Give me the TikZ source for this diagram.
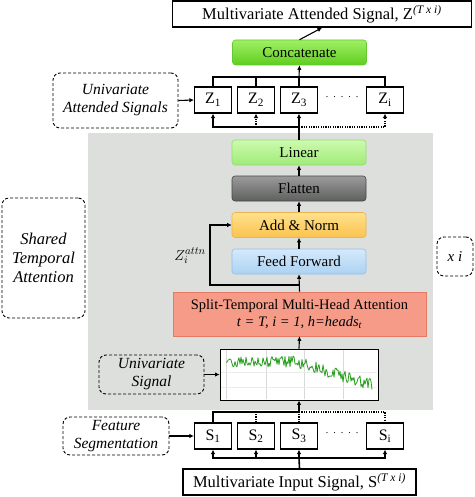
\documentclass[tikz,border=0pt]{standalone}
\usepackage{fontspec}
\setmainfont{Liberation Serif}
\usetikzlibrary{arrows.meta}

\definecolor{bggray}{RGB}{221,223,221}
\definecolor{sigGreen}{RGB}{40,160,30}

\begin{document}
\begin{tikzpicture}[x=1pt,y=-1pt,
		conn/.style={line width=1.1pt},
		arr/.style={conn, -{Latex[length=4.5pt,width=4.5pt]}},
		dot/.style={conn, dash pattern=on 1.2pt off 1.2pt},
		sig/.style={draw, line width=1.2pt, fill=white, minimum width=37pt, minimum height=26pt, inner sep=0pt, font=\fontsize{16}{18}\selectfont},
		bigbox/.style={draw, line width=1.6pt, fill=white, minimum height=26pt, inner sep=0pt, font=\fontsize{16.5}{18}\selectfont},
		layer/.style={rounded corners=3pt, line width=0.6pt, minimum width=134pt, minimum height=25pt, inner sep=0pt, align=center, font=\fontsize{15}{17}\selectfont},
		note/.style={draw, dash pattern=on 3pt off 2pt, line width=0.9pt, rounded corners=7pt, align=center, inner sep=0pt, font=\itshape\fontsize{15.5}{18}\selectfont}]
		\useasboundingbox (0,0) rectangle (474,497);
		% shared block background
		\fill[bggray] (88,133) rectangle (433,410);
		% output and concatenation
		\node[bigbox, minimum width=299pt] (output) at (322,14) {Multivariate Attended Signal, Z\textsuperscript{\itshape (T x i)}};
		\node[layer, draw={rgb,255:red,100;green,200;blue,50}, top color={rgb,255:red,160;green,240;blue,100}, bottom color={rgb,255:red,95;green,205;blue,30}] (concat) at (299.5,52.5) {Concatenate};
		% attended signals Z
		\foreach \n/\x in {1/213,2/256,3/299}
		{
			\node[sig] (z\n) at (\x,100) {Z\textsubscript{\n}};
		}
		\node[sig] (zi) at (385,100) {Z\textsubscript{i}};
		\node (zdots) at (342,97) {.\ \ .\ \ .\ \ .\ \ .};
		% transformer layers
		\node[layer, draw={rgb,255:red,150;green,220;blue,110}, top color={rgb,255:red,205;green,250;blue,175}, bottom color={rgb,255:red,160;green,235;blue,120}] (linear) at (299,152.5) {Linear};
		\node[layer, draw={rgb,255:red,70;green,70;blue,70}, top color={rgb,255:red,155;green,155;blue,155}, bottom color={rgb,255:red,95;green,95;blue,95}] (flatten) at (299,188.5) {Flatten};
		\node[layer, draw={rgb,255:red,235;green,180;blue,80}, top color={rgb,255:red,255;green,225;blue,140}, bottom color={rgb,255:red,250;green,195;blue,80}] (addnorm) at (299,225) {Add \& Norm};
		\node[layer, draw={rgb,255:red,150;green,190;blue,230}, top color={rgb,255:red,212;green,233;blue,252}, bottom color={rgb,255:red,172;green,210;blue,242}] (ff) at (299,261.5) {Feed Forward};
		\node[layer, rounded corners=0pt, draw={rgb,255:red,230;green,120;blue,100}, fill={rgb,255:red,245;green,155;blue,135}, minimum width=253pt, minimum height=44pt, font=\fontsize{14.5}{16.5}\selectfont] (split) at (299.5,314) {Split-Temporal Multi-Head Attention\\\textit{t = T, i = 1, h=heads\textsubscript{t}}};
		\node[anchor=east, inner sep=1pt, font=\fontsize{15}{17}\selectfont] (attn) at (207,256) {$Z_i^{attn}$};
		% univariate signal chart
		\node[draw, line width=0.9pt, fill=white, minimum width=158pt, minimum height=51pt] (chart) at (299,374.5) {};
		\foreach \gx in {226,266,304,343}
		{
			\draw[black!15] (\gx,350) -- (\gx,399);
		}
		\foreach \gy in {372,387}
		{
			\draw[black!8] (221,\gy) -- (377,\gy);
		}
		\pgfmathsetseed{11}
		\draw[sigGreen, line width=0.8pt, line join=round] (226,362) \foreach \k in {1,...,146} { -- ({226+\k},{362+max(0,\k-70)*0.3+6*rand}) };
		% segmented signals S
		\foreach \n/\x in {1/213,2/256,3/299}
		{
			\node[sig] (s\n) at (\x,436) {S\textsubscript{\n}};
		}
		\node[sig] (si) at (385,436) {S\textsubscript{i}};
		\node (sdots) at (342,433) {.\ \ .\ \ .\ \ .\ \ .};
		\node[bigbox, minimum width=233pt] (input) at (299.5,482) {Multivariate Input Signal, S\textsuperscript{\itshape (T x i)}};
		% dashed notes
		\node[note, minimum width=125pt, minimum height=55pt] (uas) at (115.5,100.5) {Univariate\\Attended Signals};
		\node[note, minimum width=83pt, minimum height=120pt, font=\itshape\fontsize{16.5}{19}\selectfont] (sta) at (43.5,258) {Shared\\Temporal\\Attention};
		\node[note, minimum width=36pt, minimum height=39pt, font=\itshape\fontsize{15}{17}\selectfont] (times) at (455,256.5) {x i};
		\node[note, minimum width=105pt, minimum height=39pt] (usig) at (151.5,374.5) {Univariate\\Signal};
		\node[note, minimum width=106pt, minimum height=38pt] (fseg) at (116,436) {Feature\\Segmentation};
		% input to S boxes
		\coordinate (sin) at (299,458);
		\draw[conn, line width=1.6pt] (input.north) -- (sin);
		\draw[arr] (sin) -| (s1.south);
		\draw[arr] (sin) -| (si.south);
		\draw[arr] (s2.south |- sin) -- (s2.south);
		\draw[arr] (sin) -- (s3.south);
		% S boxes to chart
		\coordinate (sbus) at (299,412);
		\draw[conn] (s1.north) |- (sbus);
		\draw[dot] (sbus) -| (si.north);
		\draw[dot] (s2.north) -- (s2.north |- sbus);
		\draw[dot] (s3.north) -- (sbus);
		\draw[arr] (sbus) -- (chart.south);
		% through the layers
		\coordinate (fork) at (299,285);
		\draw[arr] (chart.north) -- (split.south);
		\draw[arr] (split.north) -- (ff.south);
		\draw[arr] (fork) -- ++(-89,0) |- (addnorm.west);
		\draw[arr] (ff.north) -- (addnorm.south);
		\draw[arr] (addnorm.north) -- (flatten.south);
		\draw[arr] (flatten.north) -- (linear.south);
		% layers to Z boxes
		\coordinate (zbus) at (299,127);
		\draw[conn] (linear.north) -- (zbus);
		\draw[arr] (zbus) -- (z3.south);
		\draw[arr] (zbus) -| (z1.south);
		\draw[dot, -{Latex[length=4.5pt,width=4.5pt]}] (zbus) -| (zi.south);
		\draw[dot, -{Latex[length=4.5pt,width=4.5pt]}] (z2.south |- zbus) -- (z2.south);
		% Z boxes to output
		\coordinate (ztop) at (299,77);
		\draw[conn] (z1.north) |- (ztop) -| (zi.north);
		\draw[conn] (z2.north) -- (z2.north |- ztop);
		\draw[conn] (z3.north) -- (ztop);
		\draw[arr] (ztop) -- (concat.south);
		\draw[arr] (concat.north) -- (output.south);
		% notes pointing in
		\draw[arr] (uas.east) -- (z1.west);
		\draw[arr] (usig.east) -- (chart.west);
		\draw[arr] (fseg.east) -- (s1.west);
	\end{tikzpicture}
\end{document}
